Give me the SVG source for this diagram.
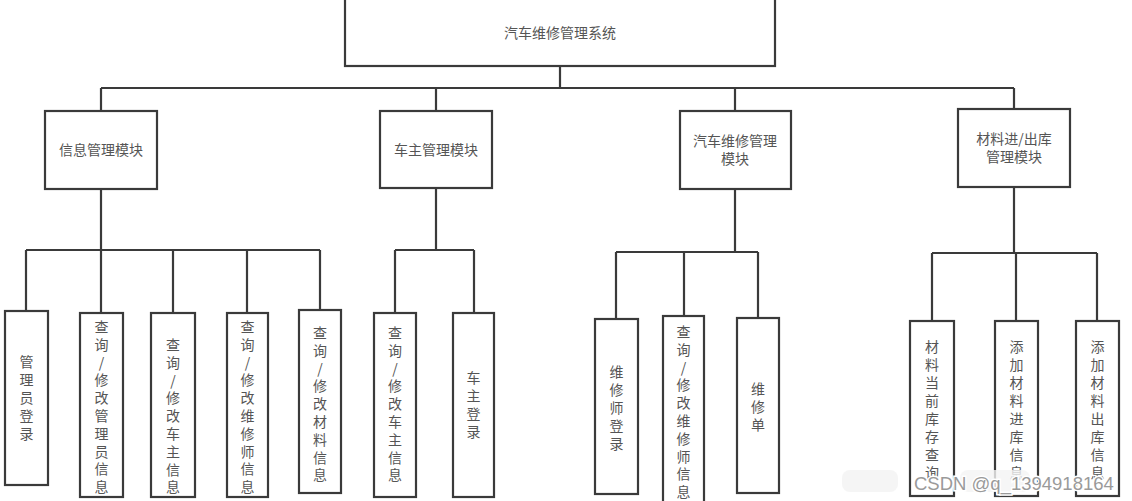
<svg xmlns="http://www.w3.org/2000/svg" width="1132" height="501" viewBox="0 0 1132 501">
<style>
.box{fill:#fff;stroke:#3a3a3a;stroke-width:2.2}
.ln{fill:none;stroke:#3a3a3a;stroke-width:2.2}
text{font-family:"Noto Sans CJK SC","Noto Sans",sans-serif;font-size:14px;fill:#555;text-anchor:middle}
.wm{font-family:"Liberation Sans","Noto Sans",sans-serif;font-size:18.5px;fill:#9a9a9a;stroke:#fff;stroke-width:3;paint-order:stroke;text-anchor:start}
</style>
<rect width="1132" height="501" fill="#fff"/>
<g id="connectors">
<path class="ln" d="M560 66V88M101 88H1014M101 88V111M436 88V111M735 88V111M1014 88V109"/>
<path class="ln" d="M101 189V250M26 250H320M26 250V311M101 250V313M173 250V313M247 250V313M320 250V310"/>
<path class="ln" d="M436 188V250M395 250H474M395 250V313M474 250V313"/>
<path class="ln" d="M735 189V252M616 252H758M616 252V319M684 252V316M758 252V318"/>
<path class="ln" d="M1014 187V253M932 253H1097M932 253V321M1016 253V321M1097 253V321"/>
</g>
<g id="root"><rect class="box" x="345" y="-2" width="430" height="68"/><text x="560" y="38">汽车维修管理系统</text></g>
<g id="m1"><rect class="box" x="45" y="111" width="112" height="78"/><text x="101" y="155">信息管理模块</text></g>
<g id="m2"><rect class="box" x="380" y="111" width="112" height="77"/><text x="436" y="155">车主管理模块</text></g>
<g id="m3"><rect class="box" x="680" y="111" width="111" height="78"/><text x="735" y="146">汽车维修管理</text><text x="735" y="164">模块</text></g>
<g id="m4"><rect class="box" x="958" y="109" width="112" height="78"/><text x="1014" y="144">材料进/出库</text><text x="1014" y="162">管理模块</text></g>

<g id="c1"><rect class="box" x="5" y="311" width="43" height="174"/><text x="26.5"><tspan x="26.5" y="367">管</tspan><tspan x="26.5" dy="18">理</tspan><tspan x="26.5" dy="18">员</tspan><tspan x="26.5" dy="18">登</tspan><tspan x="26.5" dy="18">录</tspan></text></g>
<g id="c2"><rect class="box" x="80" y="313" width="43" height="184"/><text><tspan x="101.5" y="332">查</tspan><tspan x="101.5" dy="17.8">询</tspan><tspan x="101.5" dy="17.8">/</tspan><tspan x="101.5" dy="17.8">修</tspan><tspan x="101.5" dy="17.8">改</tspan><tspan x="101.5" dy="17.8">管</tspan><tspan x="101.5" dy="17.8">理</tspan><tspan x="101.5" dy="17.8">员</tspan><tspan x="101.5" dy="17.8">信</tspan><tspan x="101.5" dy="17.8">息</tspan></text></g>
<g id="c3"><rect class="box" x="151" y="313" width="44" height="184"/><text><tspan x="173" y="350">查</tspan><tspan x="173" dy="17.8">询</tspan><tspan x="173" dy="17.8">/</tspan><tspan x="173" dy="17.8">修</tspan><tspan x="173" dy="17.8">改</tspan><tspan x="173" dy="17.8">车</tspan><tspan x="173" dy="17.8">主</tspan><tspan x="173" dy="17.8">信</tspan><tspan x="173" dy="17.8">息</tspan></text></g>
<g id="c4"><rect class="box" x="227" y="313" width="41" height="184"/><text><tspan x="247.5" y="332">查</tspan><tspan x="247.5" dy="17.8">询</tspan><tspan x="247.5" dy="17.8">/</tspan><tspan x="247.5" dy="17.8">修</tspan><tspan x="247.5" dy="17.8">改</tspan><tspan x="247.5" dy="17.8">维</tspan><tspan x="247.5" dy="17.8">修</tspan><tspan x="247.5" dy="17.8">师</tspan><tspan x="247.5" dy="17.8">信</tspan><tspan x="247.5" dy="17.8">息</tspan></text></g>
<g id="c5"><rect class="box" x="299" y="310" width="42" height="183"/><text><tspan x="320" y="338">查</tspan><tspan x="320" dy="17.8">询</tspan><tspan x="320" dy="17.8">/</tspan><tspan x="320" dy="17.8">修</tspan><tspan x="320" dy="17.8">改</tspan><tspan x="320" dy="17.8">材</tspan><tspan x="320" dy="17.8">料</tspan><tspan x="320" dy="17.8">信</tspan><tspan x="320" dy="17.8">息</tspan></text></g>

<g id="c6"><rect class="box" x="374" y="313" width="42" height="184"/><text><tspan x="395" y="338">查</tspan><tspan x="395" dy="17.8">询</tspan><tspan x="395" dy="17.8">/</tspan><tspan x="395" dy="17.8">修</tspan><tspan x="395" dy="17.8">改</tspan><tspan x="395" dy="17.8">车</tspan><tspan x="395" dy="17.8">主</tspan><tspan x="395" dy="17.8">信</tspan><tspan x="395" dy="17.8">息</tspan></text></g>
<g id="c7"><rect class="box" x="453" y="313" width="41" height="184"/><text><tspan x="473.5" y="383">车</tspan><tspan x="473.5" dy="18">主</tspan><tspan x="473.5" dy="18">登</tspan><tspan x="473.5" dy="18">录</tspan></text></g>

<g id="c8"><rect class="box" x="595" y="319" width="43" height="175"/><text><tspan x="616.5" y="377">维</tspan><tspan x="616.5" dy="18">修</tspan><tspan x="616.5" dy="18">师</tspan><tspan x="616.5" dy="18">登</tspan><tspan x="616.5" dy="18">录</tspan></text></g>
<g id="c9"><rect class="box" x="663" y="316" width="41" height="188"/><text><tspan x="683.5" y="337">查</tspan><tspan x="683.5" dy="17.8">询</tspan><tspan x="683.5" dy="17.8">/</tspan><tspan x="683.5" dy="17.8">修</tspan><tspan x="683.5" dy="17.8">改</tspan><tspan x="683.5" dy="17.8">维</tspan><tspan x="683.5" dy="17.8">修</tspan><tspan x="683.5" dy="17.8">师</tspan><tspan x="683.5" dy="17.8">信</tspan><tspan x="683.5" dy="17.8">息</tspan></text></g>
<g id="c10"><rect class="box" x="737" y="318" width="42" height="175"/><text><tspan x="758" y="394">维</tspan><tspan x="758" dy="18">修</tspan><tspan x="758" dy="18">单</tspan></text></g>

<g id="c11"><rect class="box" x="910" y="321" width="44" height="175"/><text><tspan x="932" y="352">材</tspan><tspan x="932" dy="18">料</tspan><tspan x="932" dy="18">当</tspan><tspan x="932" dy="18">前</tspan><tspan x="932" dy="18">库</tspan><tspan x="932" dy="18">存</tspan><tspan x="932" dy="18">查</tspan><tspan x="932" dy="18">询</tspan></text></g>
<g id="c12"><rect class="box" x="995" y="321" width="43" height="175"/><text><tspan x="1016.5" y="352">添</tspan><tspan x="1016.5" dy="18">加</tspan><tspan x="1016.5" dy="18">材</tspan><tspan x="1016.5" dy="18">料</tspan><tspan x="1016.5" dy="18">进</tspan><tspan x="1016.5" dy="18">库</tspan><tspan x="1016.5" dy="18">信</tspan><tspan x="1016.5" dy="18">息</tspan></text></g>
<g id="c13"><rect class="box" x="1076" y="321" width="43" height="175"/><text><tspan x="1097.5" y="352">添</tspan><tspan x="1097.5" dy="18">加</tspan><tspan x="1097.5" dy="18">材</tspan><tspan x="1097.5" dy="18">料</tspan><tspan x="1097.5" dy="18">出</tspan><tspan x="1097.5" dy="18">库</tspan><tspan x="1097.5" dy="18">信</tspan><tspan x="1097.5" dy="18">息</tspan></text></g>

<g id="watermark">
<rect x="842" y="470" width="56" height="22" rx="8" fill="#f4f4f4" opacity="0.9"/>
<rect x="960" y="470" width="70" height="22" rx="8" fill="#f4f4f4" opacity="0.8"/>
<text class="wm" x="914" y="490">CSDN @q_1394918164</text>
</g>
</svg>
